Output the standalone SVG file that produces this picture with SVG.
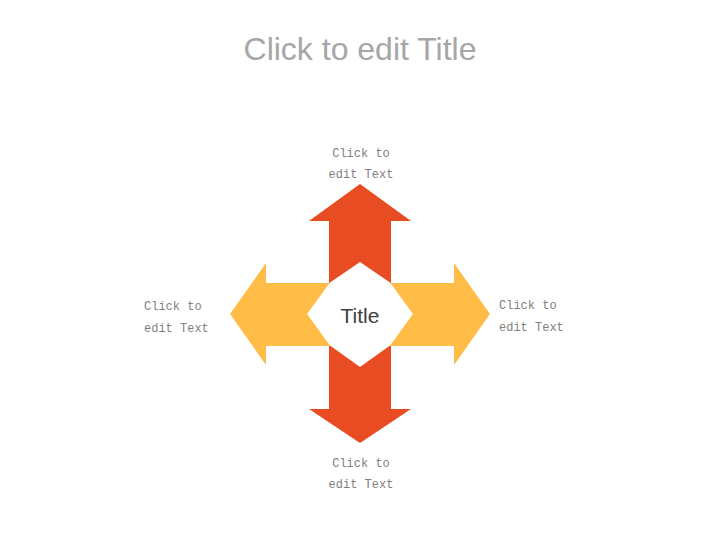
<svg xmlns="http://www.w3.org/2000/svg" width="721" height="540" viewBox="0 0 721 540">
  <style>
    .title { font-family: "Liberation Sans", Arial, sans-serif; font-size: 32px; fill: #A6A6A6; }
    .lbl { font-family: "Liberation Mono", "Courier New", monospace; font-size: 12px; fill: #808080; }
    .center { font-family: "Liberation Sans", Arial, sans-serif; font-size: 21px; fill: #404040; }
  </style>
  <rect width="721" height="540" fill="#FFFFFF"/>
  <text class="title" x="360" y="60" text-anchor="middle">Click to edit Title</text>
  <g id="connectors">
    <polygon id="vertical-arrow" fill="#E84C22" points="360,184 411,221 391,221 391,409 411,409 360,443 309,409 329,409 329,221 309,221"/>
    <polygon id="horizontal-arrow" fill="#FFBD47" points="230,314 266,263 266,283 454,283 454,263 490,314 454,365 454,346 266,346 266,365"/>
  </g>
  <g id="center-node">
    <polygon fill="#FFFFFF" points="360,262 330,282.5 307,314 330,345.5 360,367 390,345.5 413,314 390,282.5"/>
    <text class="center" x="360" y="323" text-anchor="middle">Title</text>
  </g>
  <g id="top-node">
    <text class="lbl" x="361" y="157" text-anchor="middle">Click to</text>
    <text class="lbl" x="361" y="178" text-anchor="middle">edit Text</text>
  </g>
  <g id="bottom-node">
    <text class="lbl" x="361" y="467" text-anchor="middle">Click to</text>
    <text class="lbl" x="361" y="488" text-anchor="middle">edit Text</text>
  </g>
  <g id="left-node">
    <text class="lbl" x="144" y="310">Click to</text>
    <text class="lbl" x="144" y="332">edit Text</text>
  </g>
  <g id="right-node">
    <text class="lbl" x="499" y="309">Click to</text>
    <text class="lbl" x="499" y="331">edit Text</text>
  </g>
</svg>
